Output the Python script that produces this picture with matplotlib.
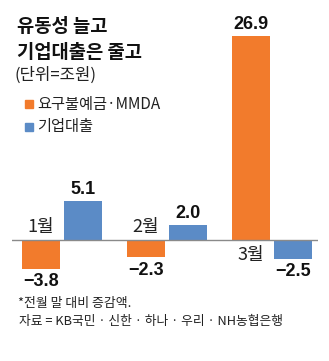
import matplotlib.pyplot as plt
from matplotlib.patches import Rectangle

plt.rcParams['font.family'] = ['Noto Sans CJK KR', 'DejaVu Sans']

months = ['1월', '2월', '3월']
demand_deposit = [-3.8, -2.3, 26.9]   # 요구불예금·MMDA
corp_loans = [5.1, 2.0, -2.5]         # 기업대출
series_names = ['요구불예금·MMDA', '기업대출']

orange = '#F27B2C'
blue = '#5B8BC6'
num_font = ['Liberation Sans Narrow', 'Liberation Sans', 'DejaVu Sans']

W, H = 329, 361
fig = plt.figure(figsize=(W / 100, H / 100), dpi=100)

# axes placed in pixels: left 12, right 318, top 8, bottom 290
ax = fig.add_axes([12 / W, (H - 290) / H, 306 / W, 282 / H])
ax.axis('off')
ax.set_xlim(-0.476, 2.438)
ax.set_ylim(-50 / 7.6, 232 / 7.6)

x = list(range(len(months)))
off = 0.2
bw = 0.362
xo = [i - off for i in x]
xb = [i + off for i in x]
ax.bar(xo, demand_deposit, width=bw, color=orange)
ax.bar(xb, corp_loans, width=bw, color=blue)
ax.axhline(0, color='#8a8a8a', lw=1.0)

def label(xs, vals):
    for xi, v in zip(xs, vals):
        txt = f'{v:.1f}'.replace('-', '\u2212')
        if v >= 0:
            ax.annotate(txt, (xi, v), xytext=(0, 2), textcoords='offset points',
                        ha='center', va='bottom', fontsize=13, fontweight='bold',
                        family=num_font, color='#111111')
        else:
            ax.annotate(txt, (xi, v), xytext=(0, -3), textcoords='offset points',
                        ha='center', va='top', fontsize=13, fontweight='bold',
                        family=num_font, color='#111111')

label(xo, demand_deposit)
label(xb, corp_loans)

# month labels sit on the opposite side of the orange bar
for xi, v, m in zip(xo, demand_deposit, months):
    if v < 0:
        ax.annotate(m, (xi, 0), xytext=(0, 3), textcoords='offset points',
                    ha='center', va='bottom', fontsize=13, color='#222222')
    else:
        ax.annotate(m, (xi, 0), xytext=(0, -4), textcoords='offset points',
                    ha='center', va='top', fontsize=13, color='#222222')

def fy(py):
    return 1 - py / H

fig.text(17 / W, fy(26), '유동성 늘고', fontsize=13.5, fontweight='bold',
         va='center', color='#111111')
fig.text(17 / W, fy(52), '기업대출은 줄고', fontsize=13.5, fontweight='bold',
         va='center', color='#111111')
fig.text(15 / W, fy(75), '(단위=조원)', fontsize=12, va='center', color='#222222')

for name, col, py in zip(series_names, [orange, blue], [104, 127]):
    fig.patches.append(Rectangle((25 / W, fy(py + 4)), 8 / W, 8 / H,
                                 transform=fig.transFigure, color=col))
    fig.text(37 / W, fy(py), name, fontsize=11, va='center', color='#222222')

fig.text(18 / W, fy(304), '*전월 말 대비 증감액.', fontsize=9.3, va='center',
         color='#222222')
fig.text(19 / W, fy(321), '자료 = KB국민 · 신한 · 하나 · 우리 · NH농협은행',
         fontsize=9.2, va='center', color='#222222')

fig.savefig('out.png', dpi=100)
